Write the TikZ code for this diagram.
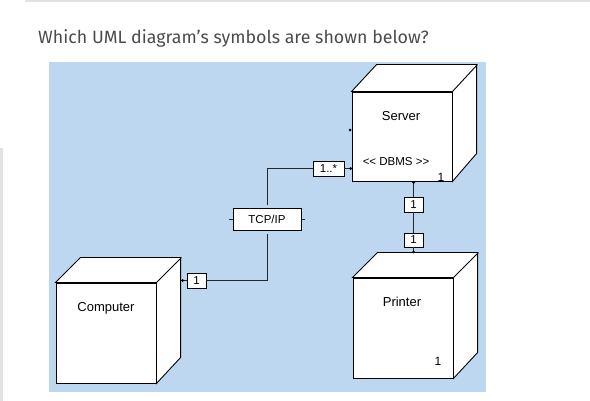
\documentclass[tikz,border=0pt]{standalone}
\usepackage{fontspec}
\setmainfont{Liberation Sans}
\newfontfamily\titlefont{Fira Sans}
\definecolor{bgblue}{RGB}{189,215,241}
\definecolor{titlegrey}{RGB}{75,75,75}
\definecolor{rulegrey}{RGB}{226,226,226}
\begin{document}
\begin{tikzpicture}[x=1pt,y=-1pt,
  cubefront/.style={draw=black, line width=0.9pt, fill=white, minimum width=100pt, inner sep=0pt},
  cubeside/.style={draw=black, line width=0.9pt, fill=white, line join=miter},
  mult/.style={draw=black, line width=0.9pt, fill=white, inner sep=0pt, font=\fontsize{11.5}{11.5}\selectfont},
  lbl/.style={font=\fontsize{13}{13}\selectfont, inner sep=0pt},
  conn/.style={draw=black!85, line width=0.9pt},
  tip/.style={fill=black, circle, inner sep=0pt, minimum size=3pt}
]
\useasboundingbox (0,0) rectangle (590,401);
% page decorations
\fill[rulegrey] (25,0) rectangle (590,1.8);
\fill[rulegrey] (0,148) rectangle (3,401);
\node[anchor=base west, inner sep=0pt, text=titlegrey, font=\titlefont\fontsize{17.8}{17.8}\selectfont] (title) at (38,44) {Which UML diagram’s symbols are shown below?};
% background panel
\fill[bgblue] (49,62) rectangle (486,392);

% Server cube
\node[cubefront, minimum height=89pt] (server) at (402,136.5) {};
\draw[cubeside] (server.north west) -- ++(25,-27) -- ++(100,0) -- ++(0,89) -- (server.south east) -- (server.north east) -- cycle;
\draw[cubeside] (server.north east) -- ++(25,-27);
\node[lbl] (serverlbl) at (401,116) {Server};
\node[lbl, font=\fontsize{11.5}{11.5}\selectfont] (dbms) at (396,162) {{<}{<} DBMS {>}{>}};
\node[lbl, font=\fontsize{12}{12}\selectfont] (server1) at (441,177.5) {1};

% Computer cube
\node[cubefront, minimum height=100pt] (computer) at (106,333) {};
\draw[cubeside] (computer.north west) -- ++(25,-25) -- ++(100,0) -- ++(0,100) -- (computer.south east) -- (computer.north east) -- cycle;
\draw[cubeside] (computer.north east) -- ++(25,-25);
\node[lbl] (computerlbl) at (106,308) {Computer};

% Printer cube
\node[cubefront, minimum height=100pt] (printer) at (403,328) {};
\draw[cubeside] (printer.north west) -- ++(25,-25) -- ++(100,0) -- ++(0,100) -- (printer.south east) -- (printer.north east) -- cycle;
\draw[cubeside] (printer.north east) -- ++(25,-25);
\node[lbl] (printerlbl) at (402,302) {Printer};
\node[lbl, font=\fontsize{12}{12}\selectfont] (printer1) at (438,361) {1};

% multiplicity boxes
\node[mult, minimum width=31pt, minimum height=15pt] (m1) at (328.5,168.5) {1..*};
\node[mult, minimum width=68pt, minimum height=22pt] (tcp) at (267,219) {TCP/IP};
\node[mult, minimum width=19pt, minimum height=15pt] (mc) at (196.5,280.5) {1};
\node[mult, minimum width=19pt, minimum height=15pt] (ms) at (413.5,204.5) {1};
\node[mult, minimum width=19pt, minimum height=14pt] (mp) at (413.5,240) {1};

% connection points
\coordinate (sleft) at (352,168.5);
\coordinate (sbot) at (413.5,181);
\coordinate (ptop) at (413.5,253);
\coordinate (cside) at (181,280.5);

% connectors
\draw[conn] (m1.east) -- (sleft);
\draw[conn, shorten >=3pt] (m1.west) -| (tcp.north);
\draw[conn, shorten <=4pt] (tcp.south) |- (mc.east);
\draw[conn] (mc.west) -- (cside);
\draw[conn] (sbot) -- (ms.north);
\draw[conn] (ms.south) -- (mp.north);
\draw[conn] (mp.south) -- (ptop);
\draw[conn] (tcp.west) -- ++(-4,0);
\draw[conn] (tcp.east) -- ++(4,0);

% small endpoint marks
\node[tip] (t1) at (350.5,168.5) {};
\node[tip] (t2) at (350,130) {};
\node[tip] (t3) at (413.5,252) {};
\node[tip] (t4) at (182.5,280.5) {};
\node[tip] (t5) at (413.5,182.5) {};
\end{tikzpicture}
\end{document}
